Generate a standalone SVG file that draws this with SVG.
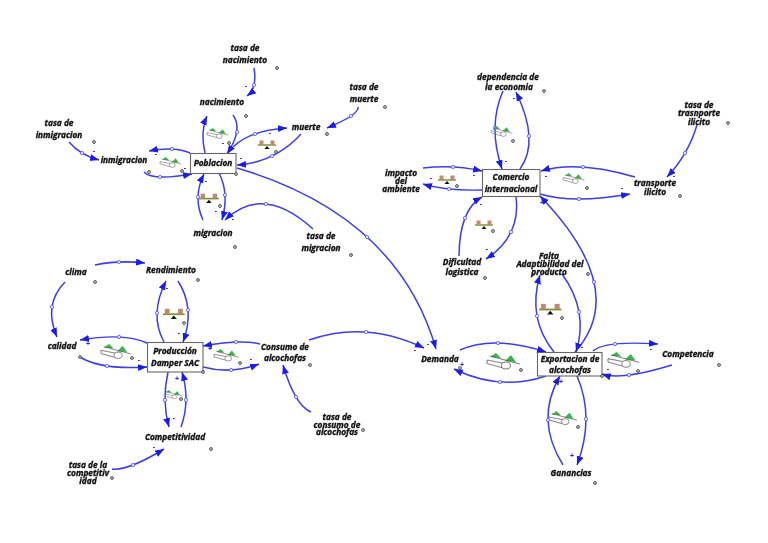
<svg xmlns="http://www.w3.org/2000/svg" width="768" height="543" viewBox="0 0 768 543">
<style>
.l{font:italic 700 8.300px "Open Sans","Liberation Sans",sans-serif;fill:#111;text-anchor:middle;stroke:#111;stroke-width:.35}
.c{fill:none;stroke:#3c3cf0;stroke-width:1.500;marker-end:url(#a)}
.m{fill:#dfe0ff;stroke:#5a5af0;stroke-width:.8}
.d{fill:#bbb;stroke:#444;stroke-width:.8}
.b{fill:#fff;stroke:#666;stroke-width:1.100}
.s{font:700 7px "Liberation Sans",sans-serif;fill:#2222e0;text-anchor:middle}
</style>
<defs>
<filter id="soft" x="0" y="0" width="100%" height="100%"><feGaussianBlur stdDeviation=".3"/></filter>
<marker id="a" markerUnits="userSpaceOnUse" markerWidth="10" markerHeight="8" refX="9" refY="3.500" orient="auto"><path d="M0 0L9 3.500L0 7z" fill="#1c1ce8"/></marker>
<g id="r">
<path d="M3 4L9 0L14 5z" fill="#39b54a"/><path d="M18 8L24 2L29 9z" fill="#39b54a"/>
<path d="M3 3L33 11" stroke="#555" stroke-width=".8" fill="none"/>
<path d="M0 7L18 10.500M0 10.500L16 15M0 7V10.500" stroke="#888" stroke-width="1.200" fill="none"/>
<ellipse cx="19" cy="12.500" rx="4.500" ry="3.500" fill="#fff" stroke="#666" stroke-width=".9"/>
</g>
<g id="q">
<rect x="1.500" y="1.500" width="4" height="4" fill="#c28a76"/><rect x="12.500" y="1.500" width="4" height="4" fill="#c28a76"/>
<path d="M0 6H18" stroke="#8d8f3c" stroke-width="1.500"/>
<path d="M9 7L6.500 10H11.500z" fill="#111"/>
</g>
</defs>
<rect width="768" height="543" fill="#fff"/>
<g filter="url(#soft)">
<g id="connectors">
<path class="c" d="M254 68Q257.500 88 247 96"/>
<path class="c" d="M205 153Q200 131.500 207 116"/>
<path class="c" d="M233 115Q243.400 129 227 154"/>
<path class="c" d="M233 147Q250 130.500 287 128"/>
<path class="c" d="M301 134Q275 162.500 237 165"/>
<path class="c" d="M358 107Q359.500 114.500 327 128"/>
<path class="c" d="M69 142Q80 155 99 160"/>
<path class="c" d="M190 153Q174.500 146 149 151"/>
<path class="c" d="M144 172Q152 181 192 174"/>
<path class="c" d="M219 173Q229.500 193.500 222 220"/>
<path class="c" d="M203 220Q192.500 197 204 174"/>
<path class="c" d="M313 229Q263 183.500 225 220"/>
<path class="c" d="M237 168Q397.500 215.500 436 349"/>
<path class="c" d="M309 340Q365.500 320 424 348"/>
<path class="c" d="M520 169Q540 141.500 516 92"/>
<path class="c" d="M503 91Q487.500 126 502 169"/>
<path class="c" d="M423 168Q453.500 164.500 482 171"/>
<path class="c" d="M482 190Q445.500 191 423 184"/>
<path class="c" d="M635 177Q578 160 541 171"/>
<path class="c" d="M540 194Q573 204 630 194"/>
<path class="c" d="M697 125Q688 155 667 177"/>
<path class="c" d="M516 197Q521 236 486 259"/>
<path class="c" d="M459 256Q459.500 209.500 482 197"/>
<path class="c" d="M575 352Q630.500 290 540 196"/>
<path class="c" d="M562 274Q589 311 576 352"/>
<path class="c" d="M554 352Q527 318.500 540 275"/>
<path class="c" d="M460 350Q493 335 546 352"/>
<path class="c" d="M546 376Q500 391.500 454 369"/>
<path class="c" d="M593 351Q604.500 340.500 658 344"/>
<path class="c" d="M672 365Q621 380.500 602 374"/>
<path class="c" d="M563 465Q534.500 419.500 560 376"/>
<path class="c" d="M577 376Q595 417.500 577 465"/>
<path class="c" d="M95 265Q118 260 145 263"/>
<path class="c" d="M65 282Q43 304.500 57 337"/>
<path class="c" d="M164 342Q149 314.500 166 281"/>
<path class="c" d="M178 281Q195.500 308.500 183 342"/>
<path class="c" d="M147 343Q124.500 332.500 80 340"/>
<path class="c" d="M80 357Q100.500 370 147 367"/>
<path class="c" d="M260 344Q240.500 339 203 346"/>
<path class="c" d="M203 367Q231 374.500 259 364"/>
<path class="c" d="M168 372Q161.500 400.500 169 427"/>
<path class="c" d="M181 427Q190.500 400.500 182 372"/>
<path class="c" d="M112 469Q128 471 164 449"/>
<path class="c" d="M311 412Q295 405.500 283 365"/>
<g id="mids">
<circle class="m" cx="254" cy="85" r="1.700"/><circle class="m" cx="237" cy="132" r="1.700"/><circle class="m" cx="255" cy="134" r="1.700"/><circle class="m" cx="272" cy="156" r="1.700"/><circle class="m" cx="351" cy="116" r="1.700"/><circle class="m" cx="82" cy="153" r="1.700"/><circle class="m" cx="172" cy="149" r="1.700"/><circle class="m" cx="160" cy="177" r="1.700"/><circle class="m" cx="225" cy="195" r="1.700"/><circle class="m" cx="198" cy="197" r="1.700"/><circle class="m" cx="266" cy="204" r="1.700"/><circle class="m" cx="367" cy="237" r="1.700"/><circle class="m" cx="366" cy="332" r="1.700"/>
<circle class="m" cx="529" cy="136" r="1.700"/><circle class="m" cx="495" cy="128" r="1.700"/><circle class="m" cx="453" cy="167" r="1.700"/><circle class="m" cx="449" cy="189" r="1.700"/><circle class="m" cx="583" cy="167" r="1.700"/><circle class="m" cx="579" cy="199" r="1.700"/><circle class="m" cx="685" cy="153" r="1.700"/><circle class="m" cx="511" cy="232" r="1.700"/><circle class="m" cx="465" cy="218" r="1.700"/><circle class="m" cx="594" cy="282" r="1.700"/><circle class="m" cx="579" cy="312" r="1.700"/><circle class="m" cx="537" cy="316" r="1.700"/><circle class="m" cx="498" cy="343" r="1.700"/><circle class="m" cx="500" cy="382" r="1.700"/><circle class="m" cx="615" cy="344" r="1.700"/><circle class="m" cx="629" cy="375" r="1.700"/><circle class="m" cx="548" cy="420" r="1.700"/><circle class="m" cx="586" cy="419" r="1.700"/>
<circle class="m" cx="119" cy="262" r="1.700"/><circle class="m" cx="52" cy="307" r="1.700"/><circle class="m" cx="157" cy="313" r="1.700"/><circle class="m" cx="188" cy="310" r="1.700"/><circle class="m" cx="119" cy="337" r="1.700"/><circle class="m" cx="107" cy="366" r="1.700"/><circle class="m" cx="236" cy="342" r="1.700"/><circle class="m" cx="231" cy="370" r="1.700"/><circle class="m" cx="165" cy="400" r="1.700"/><circle class="m" cx="186" cy="400" r="1.700"/><circle class="m" cx="133" cy="465" r="1.700"/><circle class="m" cx="296" cy="397" r="1.700"/>
</g>
</g>
<g id="loop-icons">
<use href="#r" transform="translate(207 128) scale(.65)"/><use href="#r" transform="translate(160 157) scale(.65)"/>
<use href="#r" transform="translate(491 126) scale(.65)"/><use href="#r" transform="translate(563 173) scale(.65)"/>
<use href="#r" transform="translate(101 344) scale(.9)"/><use href="#r" transform="translate(214 349) scale(.75)"/><use href="#r" transform="translate(164 390) scale(.55)"/>
<use href="#r" transform="translate(487 353)"/><use href="#r" transform="translate(608 352) scale(.95)"/><use href="#r" transform="translate(549 411) scale(.85)"/>
<use href="#q" transform="translate(258 139)"/><use href="#q" transform="translate(199 192) scale(1.100)"/>
<use href="#q" transform="translate(438 174)"/><use href="#q" transform="translate(475 219)"/>
<use href="#q" transform="translate(163 307) scale(1.200)"/><use href="#q" transform="translate(539 302) scale(1.250)"/>
</g>
<g id="signs">
<text class="s" x="246" y="88">-</text><text class="s" x="223" y="145">-</text><text class="s" x="241" y="160">-</text><text class="s" x="270" y="135">-</text><text class="s" x="94" y="153">-</text><text class="s" x="156" y="156">-</text><text class="s" x="185" y="170">-</text><text class="s" x="206" y="183">-</text><text class="s" x="216" y="213">-</text><text class="s" x="233" y="221">-</text>
<text class="s" x="514" y="100">-</text><text class="s" x="506" y="163">-</text><text class="s" x="431" y="180">-</text><text class="s" x="474" y="177">-</text><text class="s" x="546" y="178">-</text><text class="s" x="622" y="190">-</text><text class="s" x="674" y="178">-</text><text class="s" x="481" y="206">-</text><text class="s" x="487" y="251">-</text><text class="s" x="542" y="205">+</text>
<text class="s" x="167" y="290">-</text><text class="s" x="179" y="335">-</text><text class="s" x="88" y="346">+</text><text class="s" x="139" y="362">-</text><text class="s" x="210" y="351">+</text><text class="s" x="251" y="361">-</text><text class="s" x="177" y="381">+</text><text class="s" x="174" y="420">-</text><text class="s" x="154" y="449">-</text>
<text class="s" x="415" y="352">-</text><text class="s" x="428" y="346">-</text><text class="s" x="462" y="367">+</text><text class="s" x="533" y="277">-</text><text class="s" x="582" y="349">-</text><text class="s" x="651" y="351">-</text><text class="s" x="608" y="371">-</text><text class="s" x="561" y="384">+</text><text class="s" x="572" y="458">+</text>
</g>
<g id="n-tasa-nacimiento"><text class="l" x="245" y="51">tasa de</text><text class="l" x="245" y="63">nacimiento</text><circle class="d" cx="277" cy="68" r="1.500"/></g>
<g id="n-nacimiento"><text class="l" x="222" y="105">nacimiento</text><circle class="d" cx="246" cy="116" r="1.500"/></g>
<g id="n-tasa-muerte"><text class="l" x="364" y="90">tasa de</text><text class="l" x="364" y="102">muerte</text><circle class="d" cx="385" cy="107" r="1.500"/></g>
<g id="n-muerte"><text class="l" x="306" y="130">muerte</text><circle class="d" cx="327" cy="134" r="1.500"/></g>
<g id="n-tasa-inmigracion"><text class="l" x="59" y="126">tasa de</text><text class="l" x="59" y="138">inmigracion</text><circle class="d" cx="94" cy="142" r="1.500"/></g>
<g id="n-inmigracion"><text class="l" x="124" y="163">inmigracion</text><circle class="d" cx="149" cy="172" r="1.500"/></g>
<g id="n-poblacion"><rect class="b" x="190.500" y="153.500" width="45.500" height="20"/><text class="l" x="213" y="166">Poblacion</text><circle class="d" cx="236" cy="174" r="1.500"/></g>
<g id="n-migracion"><text class="l" x="213" y="236">migracion</text><circle class="d" cx="235" cy="247" r="1.500"/></g>
<g id="n-tasa-migracion"><text class="l" x="321" y="239">tasa de</text><text class="l" x="321" y="251">migracion</text><circle class="d" cx="351" cy="255" r="1.500"/></g>
<g id="n-dependencia"><text class="l" x="508" y="80">dependencia de</text><text class="l" x="509" y="90">la economia</text><circle class="d" cx="544" cy="91" r="1.500"/></g>
<g id="n-comercio"><rect class="b" x="482.500" y="169.500" width="57.500" height="27"/><text class="l" x="511" y="180">Comercio</text><text class="l" x="511" y="192">internacional</text></g>
<g id="n-tasa-transporte"><text class="l" x="699" y="108">tasa de</text><text class="l" x="699" y="116">trasnporte</text><text class="l" x="699" y="125">ilicito</text><circle class="d" cx="728" cy="123" r="1.500"/></g>
<g id="n-impacto"><text class="l" x="401" y="176">impacto</text><text class="l" x="401" y="184">del</text><text class="l" x="401" y="192">ambiente</text></g>
<g id="n-transporte"><text class="l" x="655" y="186">transporte</text><text class="l" x="655" y="195">ilicito</text><circle class="d" cx="680" cy="196" r="1.500"/></g>
<g id="n-dificultad"><text class="l" x="462" y="265">Dificultad</text><text class="l" x="462" y="275">logistica</text><circle class="d" cx="485" cy="278" r="1.500"/></g>
<g id="n-falta"><text class="l" x="549" y="259">Falta</text><text class="l" x="550" y="267">Adaptibilidad del</text><text class="l" x="549" y="275">producto</text><circle class="d" cx="588" cy="274" r="1.500"/></g>
<g id="n-exportacion"><rect class="b" x="537.500" y="352.500" width="64.500" height="23.500"/><text class="l" x="570" y="362">Exportacion de</text><text class="l" x="570" y="373">alcochofas</text><circle class="d" cx="602" cy="376" r="1.500"/></g>
<g id="n-demanda"><text class="l" x="440" y="362">Demanda</text><circle class="d" cx="460" cy="368" r="1.500"/></g>
<g id="n-competencia"><text class="l" x="688" y="357">Competencia</text><circle class="d" cx="719" cy="365" r="1.500"/></g>
<g id="n-ganancias"><text class="l" x="571" y="476">Ganancias</text><circle class="d" cx="595" cy="483" r="1.500"/></g>
<g id="n-produccion"><rect class="b" x="147.500" y="342.500" width="55.500" height="29.500"/><text class="l" x="175" y="354">Producción</text><text class="l" x="175" y="366">Damper SAC</text><circle class="d" cx="203" cy="372" r="1.500"/></g>
<g id="n-clima"><text class="l" x="76" y="275">clima</text><circle class="d" cx="95" cy="282" r="1.500"/></g>
<g id="n-rendimiento"><text class="l" x="171" y="273">Rendimiento</text><circle class="d" cx="198" cy="280" r="1.500"/></g>
<g id="n-calidad"><text class="l" x="62" y="349">calidad</text><circle class="d" cx="80" cy="357" r="1.500"/></g>
<g id="n-consumo"><text class="l" x="285" y="350">Consumo de</text><text class="l" x="285" y="361">alcochofas</text><circle class="d" cx="310" cy="365" r="1.500"/></g>
<g id="n-competitividad"><text class="l" x="175" y="440">Competitividad</text><circle class="d" cx="211" cy="449" r="1.500"/></g>
<g id="n-tasa-competitividad"><text class="l" x="88" y="468">tasa de la</text><text class="l" x="88" y="476">competitiv</text><text class="l" x="88" y="484">idad</text><circle class="d" cx="112" cy="478" r="1.500"/></g>
<g id="n-tasa-consumo"><text class="l" x="337" y="420">tasa de</text><text class="l" x="337" y="428">consumo de</text><text class="l" x="337" y="435">alcochofas</text><circle class="d" cx="363" cy="430" r="1.500"/></g>
<g id="icon-dots"><circle class="d" cx="229" cy="143" r="1.500"/><circle class="d" cx="276" cy="152" r="1.500"/><circle class="d" cx="182" cy="171" r="1.500"/><circle class="d" cx="220" cy="206" r="1.500"/><circle class="d" cx="513" cy="141" r="1.500"/><circle class="d" cx="587" cy="188" r="1.500"/><circle class="d" cx="457" cy="186" r="1.500"/><circle class="d" cx="493" cy="231" r="1.500"/><circle class="d" cx="184" cy="323" r="1.500"/><circle class="d" cx="132" cy="358" r="1.500"/><circle class="d" cx="240" cy="363" r="1.500"/><circle class="d" cx="181" cy="399" r="1.500"/><circle class="d" cx="562" cy="318" r="1.500"/><circle class="d" cx="521" cy="370" r="1.500"/><circle class="d" cx="638" cy="371" r="1.500"/><circle class="d" cx="578" cy="427" r="1.500"/></g>
</g>
</svg>
